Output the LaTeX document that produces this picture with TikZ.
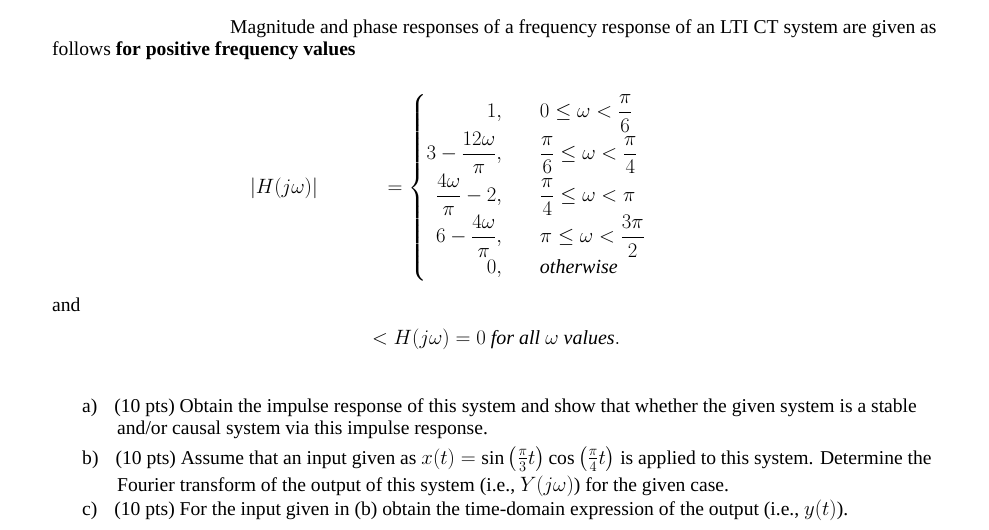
\documentclass[tikz,border=0pt]{standalone}
\usepackage{amsmath}
\usepackage{fontspec}
\setmainfont{Liberation Serif}
\begin{document}
\begin{tikzpicture}[x=1pt,y=-1pt,
  txt/.style={anchor=base west,inner sep=0pt,font=\fontsize{19.6}{23}\selectfont}]
\useasboundingbox (0,0) rectangle (989,530);
\node[txt] (l1) at (230,33) {Magnitude and phase responses of a frequency response of an LTI CT system are given as};
\node[txt] (l2) at (52,56) {follows \textbf{for positive frequency values}};
\node[anchor=west,inner sep=0pt,font=\fontsize{20}{24}\selectfont] (pw) at (250,188) {$\displaystyle |H(j\omega)|\hspace{64pt} = \left\{\begin{array}{@{}r@{\hspace{38pt}}l@{}}
1, & 0\le\omega<\dfrac{\pi}{6}\\[4pt]
3-\dfrac{12\omega}{\pi}, & \dfrac{\pi}{6}\le\omega<\dfrac{\pi}{4}\\[4pt]
\dfrac{4\omega}{\pi}-2, & \dfrac{\pi}{4}\le\omega<\pi\\[4pt]
6-\dfrac{4\omega}{\pi}, & \pi\le\omega<\dfrac{3\pi}{2}\\[2pt]
0, & \mathit{otherwise}
\end{array}\right.$};
\node[txt] (and) at (52,311) {and};
\node[txt,font=\fontsize{20}{24}\selectfont] (ph) at (372,344) {$<H(j\omega)=0\ \mathit{for\ all}\ \omega\ \mathit{values.}$};
\node[txt] (a1) at (82,412) {a)\hspace{17pt}(10 pts) Obtain the impulse response of this system and show that whether the given system is a stable};
\node[txt] (a2) at (117,434) {and/or causal system via this impulse response.};
\node[txt] (b1) at (82,464) {b)\hspace{17pt}(10 pts) Assume that an input given as $x(t)=\sin\left(\frac{\pi}{3}t\right)\cos\left(\frac{\pi}{4}t\right)$ is applied to this system. Determine the};
\node[txt] (b2) at (117,491) {Fourier transform of the output of this system (i.e., $Y(j\omega)$) for the given case.};
\node[txt] (c1) at (82,515) {c)\hspace{17pt}(10 pts) For the input given in (b) obtain the time-domain expression of the output (i.e., $y(t)$).};
\end{tikzpicture}
\end{document}
